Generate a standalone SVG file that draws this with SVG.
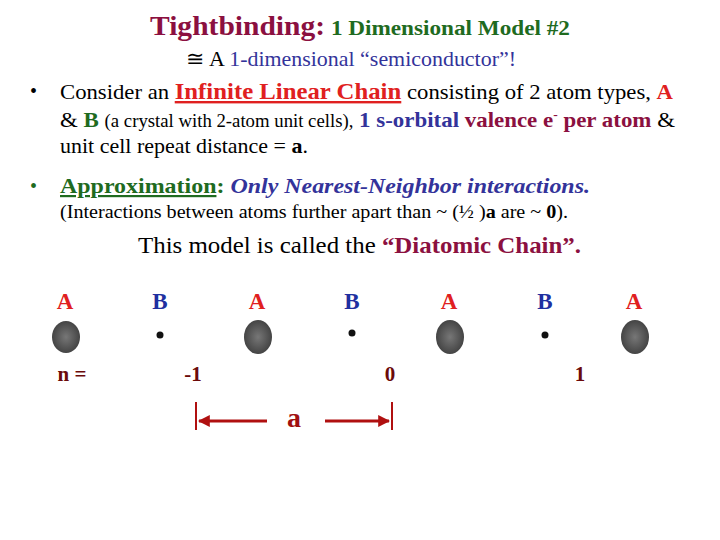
<svg xmlns="http://www.w3.org/2000/svg" width="720" height="540" viewBox="0 0 720 540">
<style>
text{font-family:"Liberation Serif",serif;fill:#000}
.b{font-weight:bold}
.mar{fill:#8b1040}.grn{fill:#1f6b1f}.blu{fill:#33339a}.red{fill:#e02020}
.lab{font-size:23px;font-weight:bold}
.n{font-size:21px;font-weight:bold;fill:#6b0a0a}
.sm{fill:#111}
.arr{stroke:#b01010;stroke-width:3;fill:none}
</style>
<defs>
<radialGradient id="g"><stop offset="0" stop-color="#777"/><stop offset="1" stop-color="#444"/></radialGradient>
<marker id="ah" viewBox="0 0 10 10" refX="9" refY="5" markerWidth="4" markerHeight="4" orient="auto-start-reverse"><path d="M0,0L10,5L0,10z" fill="#b01010"/></marker>
</defs>
<g id="text">
<text x="150" y="35" class="b" textLength="420" lengthAdjust="spacingAndGlyphs"><tspan class="mar" font-size="28">Tightbinding:</tspan><tspan class="grn" font-size="22"> 1 Dimensional Model #2</tspan></text>
<text x="186" y="66" font-size="21" textLength="330" lengthAdjust="spacingAndGlyphs">≅ A <tspan class="blu">1-dimensional “semiconductor”!</tspan></text>
<text x="30" y="98" font-size="20">•</text>
<text x="60" y="99" font-size="22" textLength="613" lengthAdjust="spacingAndGlyphs">Consider an <tspan class="b red" font-size="24" text-decoration="underline">Infinite Linear Chain</tspan> consisting of 2 atom types, <tspan class="b red">A</tspan></text>
<text x="60" y="127" font-size="22" textLength="615" lengthAdjust="spacingAndGlyphs">&amp; <tspan class="b grn">B</tspan> <tspan font-size="18">(a crystal with 2-atom unit cells),</tspan> <tspan class="b blu">1 s-orbital</tspan> <tspan class="b mar">valence e<tspan font-size="13" dy="-8">-</tspan><tspan dy="8"> per atom</tspan></tspan> &amp;</text>
<text x="60" y="153" font-size="22" textLength="248" lengthAdjust="spacingAndGlyphs">unit cell repeat distance = <tspan class="b">a</tspan>.</text>
<text x="30" y="193" font-size="20" class="grn">•</text>
<text x="60" y="193" font-size="22" class="b" textLength="530" lengthAdjust="spacingAndGlyphs"><tspan class="grn" text-decoration="underline">Approximation</tspan><tspan class="grn">:</tspan> <tspan class="blu" font-style="italic">Only Nearest-Neighbor interactions.</tspan></text>
<text x="60" y="218" font-size="18" textLength="508" lengthAdjust="spacingAndGlyphs">(Interactions between atoms further apart than ~ (½ )<tspan class="b">a</tspan> are ~ <tspan class="b">0</tspan>).</text>
<text x="138" y="253" font-size="24" textLength="443" lengthAdjust="spacingAndGlyphs">This model is called the <tspan class="b mar">“Diatomic Chain”.</tspan></text>
</g>
<g id="atoms">
<text x="65" y="309" text-anchor="middle" class="lab red">A</text>
<text x="160" y="309" text-anchor="middle" class="lab" style="fill:#2030a0">B</text>
<text x="257" y="309" text-anchor="middle" class="lab red">A</text>
<text x="352" y="309" text-anchor="middle" class="lab" style="fill:#2030a0">B</text>
<text x="449" y="309" text-anchor="middle" class="lab red">A</text>
<text x="545" y="309" text-anchor="middle" class="lab" style="fill:#2030a0">B</text>
<text x="634" y="309" text-anchor="middle" class="lab red">A</text>
<ellipse cx="66" cy="337" rx="14" ry="16" fill="url(#g)"/>
<circle cx="160" cy="335" r="3.5" class="sm"/>
<ellipse cx="258" cy="337" rx="14" ry="17" fill="url(#g)"/>
<circle cx="352" cy="333" r="3.5" class="sm"/>
<ellipse cx="450" cy="337" rx="14" ry="17" fill="url(#g)"/>
<circle cx="545" cy="335" r="3.5" class="sm"/>
<ellipse cx="635" cy="337" rx="14" ry="17" fill="url(#g)"/>
</g>
<g id="indices">
<text x="72" y="381" text-anchor="middle" class="n">n =</text>
<text x="193" y="381" text-anchor="middle" class="n">-1</text>
<text x="390" y="381" text-anchor="middle" class="n">0</text>
<text x="580" y="381" text-anchor="middle" class="n">1</text>
</g>
<g id="connectors">
<line x1="196" y1="402" x2="196" y2="430" stroke="#b01010" stroke-width="2"/>
<line x1="392" y1="402" x2="392" y2="430" stroke="#b01010" stroke-width="2"/>
<line x1="267" y1="421" x2="199" y2="421" class="arr" marker-end="url(#ah)"/>
<line x1="325" y1="421" x2="389" y2="421" class="arr" marker-end="url(#ah)"/>
<text x="294" y="427" text-anchor="middle" class="b" font-size="28" style="fill:#a01010">a</text>
</g>
</svg>
